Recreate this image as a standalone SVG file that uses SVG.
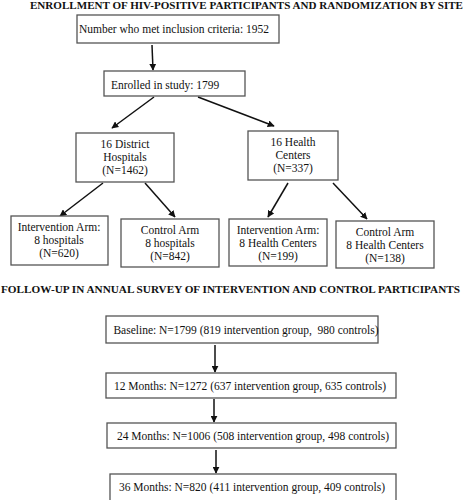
<svg xmlns="http://www.w3.org/2000/svg" width="474" height="500" viewBox="0 0 474 500">
<style>
.box{fill:#fff;stroke:#555;stroke-width:1.3}
.t{font-family:"Liberation Serif","Times New Roman",serif;font-size:11.5px;fill:#111}
.c{text-anchor:middle}
.h{font-family:"Liberation Serif","Times New Roman",serif;font-size:11px;font-weight:bold;fill:#111}
.ar{stroke:#111;stroke-width:1.5;fill:none;marker-end:url(#ah)}
</style>
<defs>
<marker id="ah" viewBox="0 0 10 10" refX="9" refY="5" markerWidth="7" markerHeight="7" markerUnits="userSpaceOnUse" orient="auto">
<path d="M0,0L10,5L0,10z" fill="#111"/>
</marker>
</defs>
<rect width="474" height="500" fill="#fff"/>
<text class="h" x="30" y="9" textLength="433" lengthAdjust="spacingAndGlyphs">ENROLLMENT OF HIV-POSITIVE PARTICIPANTS AND RANDOMIZATION BY SITE</text>
<text class="h" x="1" y="293" textLength="459" lengthAdjust="spacingAndGlyphs">FOLLOW-UP IN ANNUAL SURVEY OF INTERVENTION AND CONTROL PARTICIPANTS</text>
<g id="connectors">
<line class="ar" x1="152" y1="45" x2="153" y2="70"/>
<line class="ar" x1="154" y1="97" x2="112" y2="128"/>
<line class="ar" x1="198" y1="97" x2="274" y2="126"/>
<line class="ar" x1="103" y1="183" x2="60" y2="216"/>
<line class="ar" x1="145" y1="183" x2="175" y2="217"/>
<line class="ar" x1="288" y1="183" x2="268" y2="217"/>
<line class="ar" x1="333" y1="183" x2="367" y2="219"/>
<line class="ar" x1="215" y1="345" x2="215" y2="372"/>
<line class="ar" x1="214" y1="399" x2="214" y2="422"/>
<line class="ar" x1="216" y1="450" x2="216" y2="473"/>
</g>
<g id="n1"><rect class="box" x="77" y="15" width="202" height="28"/><text class="t" x="79" y="33">Number who met inclusion criteria: 1952</text></g>
<g id="n2"><rect class="box" x="104" y="71" width="141" height="25"/><text class="t" x="111" y="89">Enrolled in study: 1799</text></g>
<g id="n3"><rect class="box" x="76" y="133" width="98" height="49"/><text class="t c" x="125" y="148">16 District</text><text class="t c" x="125" y="161">Hospitals</text><text class="t c" x="125" y="174">(N=1462)</text></g>
<g id="n4"><rect class="box" x="248" y="131" width="90" height="49"/><text class="t c" x="293" y="146">16 Health</text><text class="t c" x="293" y="159">Centers</text><text class="t c" x="293" y="172">(N=337)</text></g>
<g id="n5"><rect class="box" x="11" y="216" width="97" height="49"/><text class="t c" x="59" y="231">Intervention Arm:</text><text class="t c" x="59" y="244">8 hospitals</text><text class="t c" x="59" y="257">(N=620)</text></g>
<g id="n6"><rect class="box" x="121" y="219" width="98" height="48"/><text class="t c" x="170" y="234">Control Arm</text><text class="t c" x="170" y="247">8 hospitals</text><text class="t c" x="170" y="260">(N=842)</text></g>
<g id="n7"><rect class="box" x="229" y="219" width="98" height="47"/><text class="t c" x="278" y="234">Intervention Arm:</text><text class="t c" x="278" y="247">8 Health Centers</text><text class="t c" x="278" y="260">(N=199)</text></g>
<g id="n8"><rect class="box" x="336" y="221" width="98" height="47"/><text class="t c" x="385" y="236">Control Arm</text><text class="t c" x="385" y="249">8 Health Centers</text><text class="t c" x="385" y="262">(N=138)</text></g>
<g id="n9"><rect class="box" x="106" y="316" width="272" height="27"/><text class="t c" x="246" y="334" xml:space="preserve">Baseline: N=1799 (819 intervention group,  980 controls)</text></g>
<g id="n10"><rect class="box" x="106" y="373" width="290" height="25"/><text class="t c" x="250" y="390">12 Months: N=1272 (637 intervention group, 635 controls)</text></g>
<g id="n11"><rect class="box" x="107" y="423" width="289" height="25"/><text class="t c" x="253" y="440">24 Months: N=1006 (508 intervention group, 498 controls)</text></g>
<g id="n12"><rect class="box" x="110" y="474" width="286" height="30"/><text class="t c" x="252" y="491">36 Months: N=820 (411 intervention group, 409 controls)</text></g>
</svg>
